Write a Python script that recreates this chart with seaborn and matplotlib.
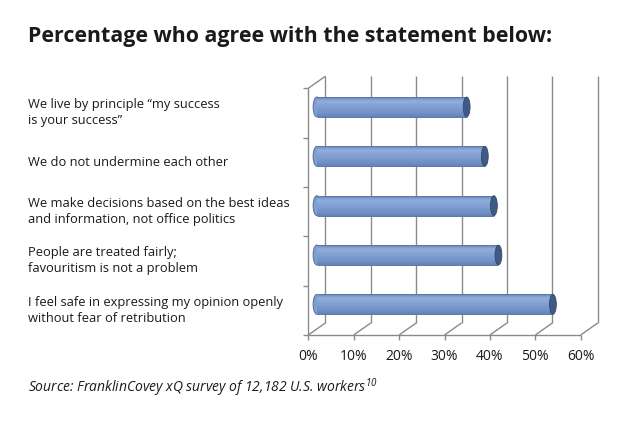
import numpy as np
import pandas as pd
import matplotlib
matplotlib.use("Agg")
import matplotlib.pyplot as plt
import seaborn as sns
from matplotlib.patches import Ellipse
from matplotlib.colors import LinearSegmentedColormap
from matplotlib import transforms

statements = [
    "We live by principle \u201cmy success\nis your success\u201d",
    "We do not undermine each other",
    "We make decisions based on the best ideas\nand information, not office politics",
    "People are treated fairly;\nfavouritism is not a problem",
    "I feel safe in expressing my opinion openly\nwithout fear of retribution",
]
agree_pct = [33, 37, 39, 40, 52]
tick_values = [0, 10, 20, 30, 40, 50, 60]
tick_labels = ["0%", "10%", "20%", "30%", "40%", "50%", "60%"]

df = pd.DataFrame({"statement": statements, "pct": agree_pct})

sns.set_style("white")
plt.rcParams["font.family"] = ["Open Sans", "DejaVu Sans"]

fig = plt.figure(figsize=(6.34, 4.25), dpi=100)
fig.set_facecolor("white")
ax = fig.add_axes([0.4997, 0.2259, 0.4297, 0.5805])

bar_h = 0.4
sns.barplot(data=df, x="pct", y="statement", orient="h", width=bar_h,
            color="#7d9dd0", edgecolor="none", ax=ax, zorder=2)
ax.set_xlim(0, 60)
ax.set_ylim(4.5, -0.5)
ax.axis("off")

# pseudo 3d depth offsets (front plane / back wall) in data units
fig.canvas.draw()
bb = ax.get_window_extent()
dx = 8.5 * 60 / bb.width
dy = 6.0 * 5 / bb.height
line_c = "#8a8a8a"
kw = dict(color=line_c, lw=1.0, clip_on=False, zorder=0, solid_capstyle="butt")

# back wall gridlines
for t in tick_values:
    ax.plot([t + dx, t + dx], [-0.5 - dy, 4.5 - dy], **kw)
    # floor diagonals
    ax.plot([t - dx, t + dx], [4.5 + dy, 4.5 - dy], **kw)
    # small ticks under the front edge
    ax.plot([t - dx, t - dx], [4.5 + dy, 4.5 + dy + 5 * 5 / bb.height], **kw)

# front floor edge and left wall
ax.plot([0 - dx, 60 - dx], [4.5 + dy, 4.5 + dy], **kw)
ax.plot([0 - dx, 0 - dx], [-0.5 + dy, 4.5 + dy], **kw)
ax.plot([0 - dx, 0 + dx], [-0.5 + dy, -0.5 - dy], **kw)
for b in np.arange(-0.5, 5, 1.0):
    ax.plot([0 - dx - 5.5 * 60 / bb.width, 0 - dx], [b + dy, b + dy], **kw)

# cylinder look for the bars
cmap = LinearSegmentedColormap.from_list(
    "cyl", ["#6886bb", "#92aedc", "#86a4d5", "#7b9bcf", "#7292c8", "#6482b8"])
grad = np.linspace(0, 1, 64).reshape(-1, 1)
edge_c = "#5b77a6"
for patch in list(ax.patches):
    x0, y0 = patch.get_x(), patch.get_y()
    w, h = patch.get_width(), patch.get_height()
    yc = y0 + h / 2
    left = Ellipse((x0, yc), width=1.6, height=h, facecolor="#7f9fd1",
                   edgecolor=edge_c, lw=0.8, zorder=1.5, clip_on=False)
    ax.add_patch(left)
    im = ax.imshow(grad, cmap=cmap, aspect="auto", origin="upper",
                   extent=[x0, x0 + w, y0 + h, y0], zorder=2)
    im.set_clip_path(patch)
    ax.hlines([y0, y0 + h], x0, x0 + w, color=edge_c, lw=0.7, zorder=3)
    cap = Ellipse((x0 + w, yc), width=1.5, height=h, facecolor="#3f5b85",
                  edgecolor="#34496b", lw=0.6, zorder=4, clip_on=False)
    ax.add_patch(cap)
ax.set_xlim(0, 60)
ax.set_ylim(4.5, -0.5)

# tick labels on the front edge
lab_tr = transforms.blended_transform_factory(ax.transData, fig.transFigure)
for t, lab in zip(tick_values, tick_labels):
    ax.text(t - dx, 1 - 356 / 425, lab, transform=lab_tr, ha="center",
            va="center", fontsize=10, color="#1a1a1a")

# category labels
cat_tr = transforms.blended_transform_factory(fig.transFigure, ax.transData)
for i, s in enumerate(statements):
    ax.text(28 / 634, i + dy, s, transform=cat_tr, ha="left", va="center",
            fontsize=9.3, color="#1a1a1a", linespacing=1.3)

fig.text(28 / 634, 1 - 42 / 425, "Percentage who agree with the statement below:",
         fontsize=15.4, fontweight="bold", color="#1a1a1a", va="baseline")
fig.text(28 / 634, 1 - 388 / 425,
         "Source: FranklinCovey xQ survey of 12,182 U.S. workers$^{\\mathregular{10}}$",
         fontsize=10, style="italic", color="#1a1a1a", va="center")

fig.savefig("out.png", dpi=100, facecolor="white")
